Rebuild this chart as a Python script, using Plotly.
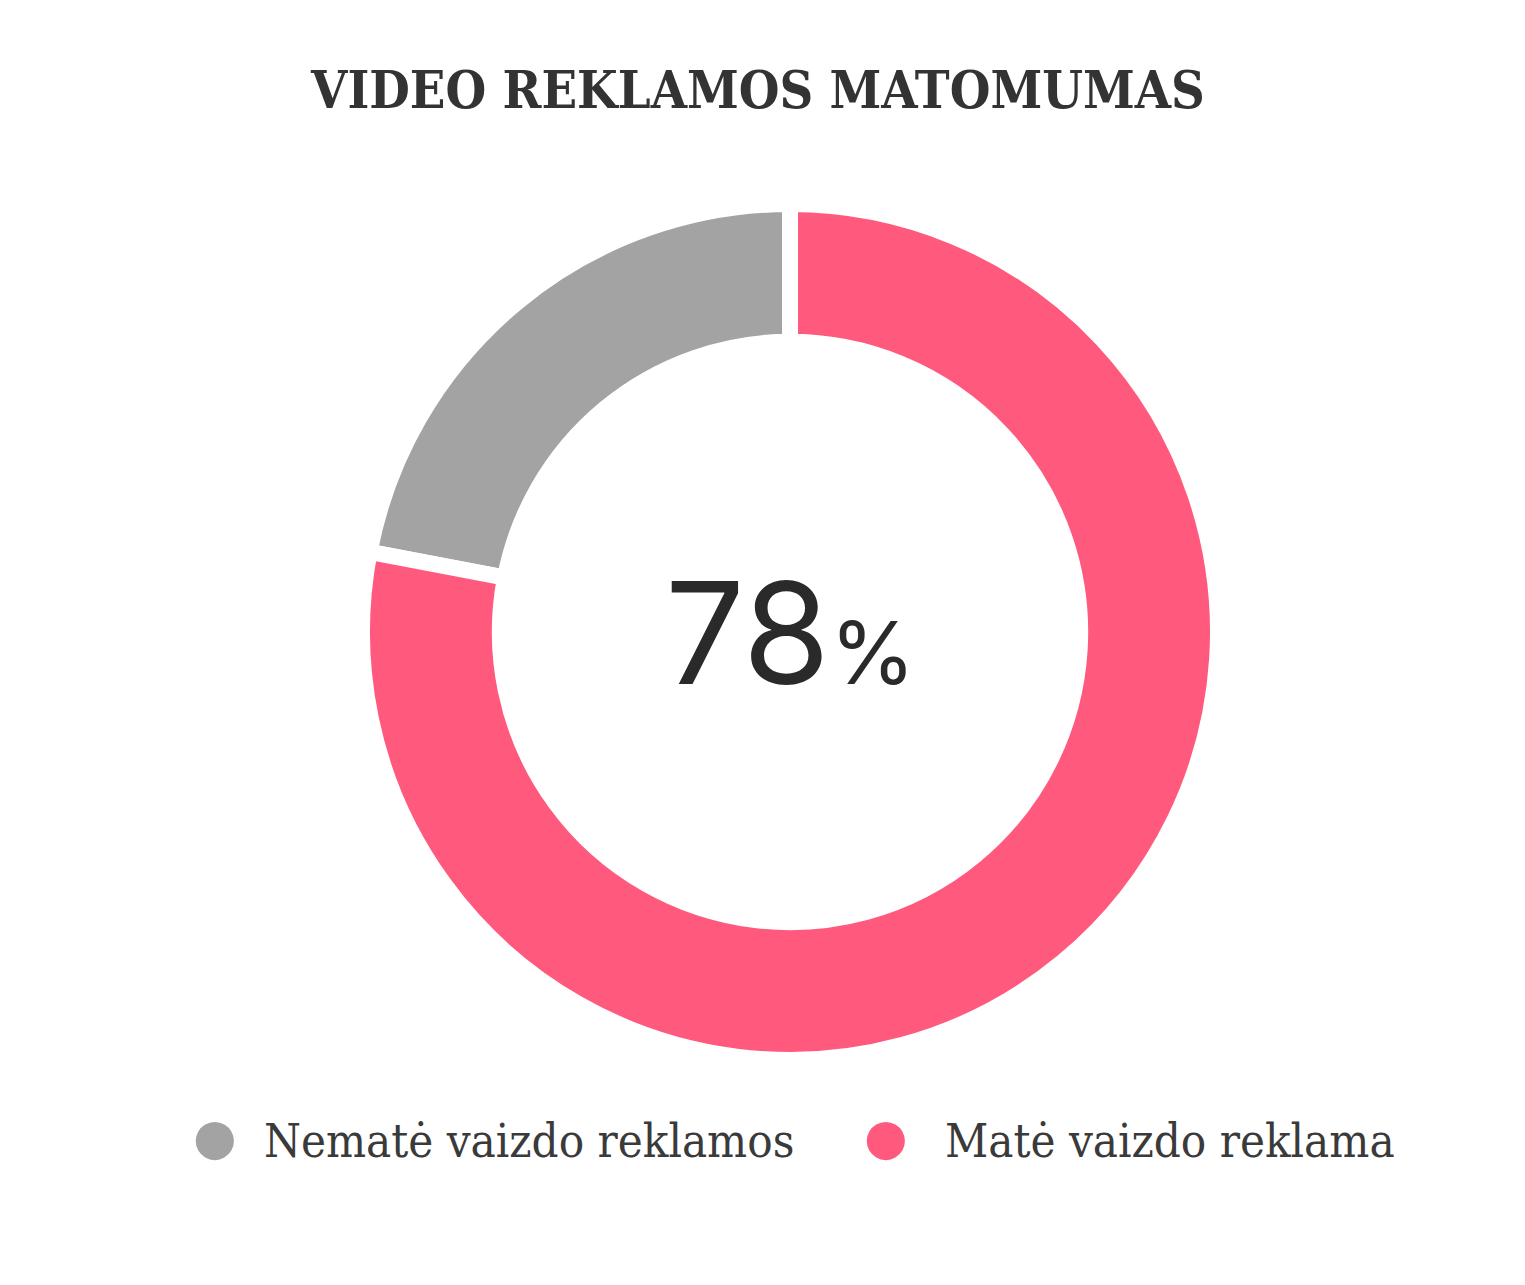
import plotly.graph_objects as go

labels = ["Nematė vaizdo reklamos", "Matė vaizdo reklama"]
values = [22, 78]
colors = ["#A3A3A3", "#FF5A7D"]
title_text = "VIDEO REKLAMOS MATOMUMAS"
center_value = "78"

W, H = 1525, 1285
OFF = 8  # browser body margin


def px(x):
    return (x - OFF) / W


def py(y):
    return 1 - (y - OFF) / H


fig = go.Figure()
fig.add_trace(go.Pie(
    labels=labels, values=values, sort=False, direction="clockwise",
    rotation=-360 * values[0] / sum(values), hole=0.678, textinfo="none",
    hoverinfo="label+percent",
    marker=dict(colors=colors, line=dict(color="white", width=16)),
    showlegend=False,
    domain=dict(x=[px(362), px(1218)], y=[py(1060), py(204)]),
))

fig.add_annotation(
    text=center_value + "<span style='font-size:87px'>%</span>",
    x=px(790), y=py(632), xref="paper", yref="paper", showarrow=False,
    font=dict(family="Inter", size=141, color="#2a2a2a"), xanchor="center", yanchor="middle",
)

legend_x = [(215, 262), (886, 943)]
for lab, col, (cx, tx) in zip(labels, colors, legend_x):
    fig.add_annotation(text="●", x=px(cx), y=py(1137), xref="paper", yref="paper",
                       showarrow=False, xanchor="center", yanchor="middle",
                       font=dict(family="DejaVu Sans", size=50, color=col))
    fig.add_annotation(text=lab, x=px(tx), y=py(1140), xref="paper", yref="paper",
                       showarrow=False, xanchor="left", yanchor="middle",
                       font=dict(family="DejaVu Serif Condensed", size=47, color="#3a3a3a"))

fig.update_layout(
    width=W, height=H, margin=dict(l=0, r=0, t=0, b=0),
    paper_bgcolor="white", plot_bgcolor="white",
    title=dict(text="<b>" + title_text + "</b>", x=px(758), xanchor="center",
               y=py(90), yanchor="middle",
               font=dict(family="DejaVu Serif Condensed", size=52, color="#333333")),
    showlegend=False,
)

fig.write_html("out.html")
